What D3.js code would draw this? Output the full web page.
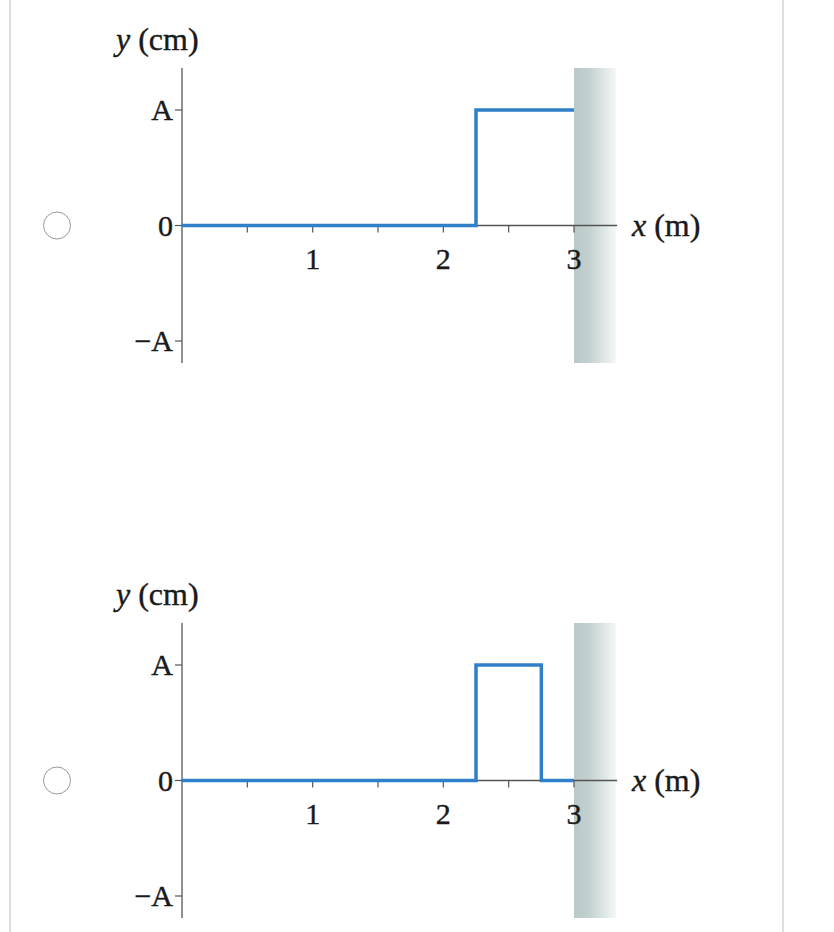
<!DOCTYPE html>
<html><head><meta charset="utf-8">
<script src="https://cdn.jsdelivr.net/npm/d3@7"></script>
<style>body{margin:0;background:#fff}</style>
</head><body>
<svg id="chart" width="834" height="932"></svg>
<script>
// each option panel: the pulse shape as (x, y) step points, y in units of A
const panelTops = [0, 555]
const pulseTop = [[0, 0], [2.25, 0], [2.25, 1], [3, 1]]
const pulseBottom = [[0, 0], [2.25, 0], [2.25, 1], [2.75, 1], [2.75, 0], [3, 0]]
const pulses = [pulseTop, pulseBottom]
const xTicks = [0.5, 1, 1.5, 2, 2.5, 3]
const xLabels = [1, 2, 3]
const yTicks = [1, 0, -1]
const yLabels = ['A', '0', '\u2212A']

const svg = d3.select('#chart')
const blue = '#2f80c9'

const defs = svg.append('defs')
const grad = defs.append('linearGradient').attr('id', 'wall')
grad.append('stop').attr('offset', '0%').attr('stop-color', '#b9c8c8')
grad.append('stop').attr('offset', '35%').attr('stop-color', '#c3d0d0')
grad.append('stop').attr('offset', '100%').attr('stop-color', '#f4f7f7')

// frame lines
svg.append('line').attr('x1', 10).attr('x2', 10).attr('y1', 0).attr('y2', 932).attr('stroke', '#bbb')
svg.append('line').attr('x1', 783).attr('x2', 783).attr('y1', 0).attr('y2', 932).attr('stroke', '#bbb')

panelTops.forEach((top, i) => {
  const x = d3.scaleLinear().domain([0, 3]).range([182, 574])
  const y = d3.scaleLinear().domain([-1, 1]).range([top + 341, top + 110])
  const g = svg.append('g').style('font-family', '"Liberation Serif", "Times New Roman", serif')
    .attr('fill', '#1a1a1a').attr('stroke', '#1a1a1a').attr('stroke-width', 0.4)

  // wall
  g.append('rect').attr('x', x(3)).attr('y', top + 68).attr('stroke', 'none')
    .attr('width', x(3.32) - x(3)).attr('height', 295).attr('fill', 'url(#wall)')

  // radio
  g.append('circle').attr('cx', 57).attr('cy', y(0)).attr('r', 13.5)
    .attr('fill', '#fff').attr('stroke', '#999').attr('stroke-width', 1)

  // y axis
  g.append('line').attr('x1', x(0)).attr('x2', x(0)).attr('y1', top + 68).attr('y2', top + 363)
    .attr('stroke', '#555').attr('stroke-width', 1.3)
  yTicks.forEach((t, k) => {
    g.append('line').attr('x1', x(0) - 7).attr('x2', x(0)).attr('y1', y(t)).attr('y2', y(t))
      .attr('stroke', '#555').attr('stroke-width', 1.2)
    g.append('text').attr('x', x(0) - 9).attr('y', y(t) + 10).attr('text-anchor', 'end')
      .attr('font-size', 30).text(yLabels[k])
  })

  // x axis
  g.append('line').attr('x1', x(0)).attr('x2', x(3.33)).attr('y1', y(0)).attr('y2', y(0))
    .attr('stroke', '#555').attr('stroke-width', 1.3)
  xTicks.forEach(t => {
    g.append('line').attr('x1', x(t)).attr('x2', x(t)).attr('y1', y(0)).attr('y2', y(0) + 7)
      .attr('stroke', '#555').attr('stroke-width', 1.2)
  })
  xLabels.forEach(t => {
    g.append('text').attr('x', x(t)).attr('y', y(0) + 43).attr('text-anchor', 'middle')
      .attr('font-size', 30).text(t)
  })

  // axis titles
  const yt = g.append('text').attr('x', 116).attr('y', top + 50).attr('font-size', 32)
  yt.append('tspan').attr('font-style', 'italic').text('y')
  yt.append('tspan').text(' (cm)')
  const xt = g.append('text').attr('x', 632).attr('y', y(0) + 10).attr('font-size', 32)
  xt.append('tspan').attr('font-style', 'italic').text('x')
  xt.append('tspan').text(' (m)')

  // pulse
  g.append('path').datum(pulses[i])
    .attr('d', d3.line().x(d => x(d[0])).y(d => y(d[1])))
    .attr('fill', 'none').attr('stroke', blue).attr('stroke-width', 3.5)
})
</script>
</body></html>
